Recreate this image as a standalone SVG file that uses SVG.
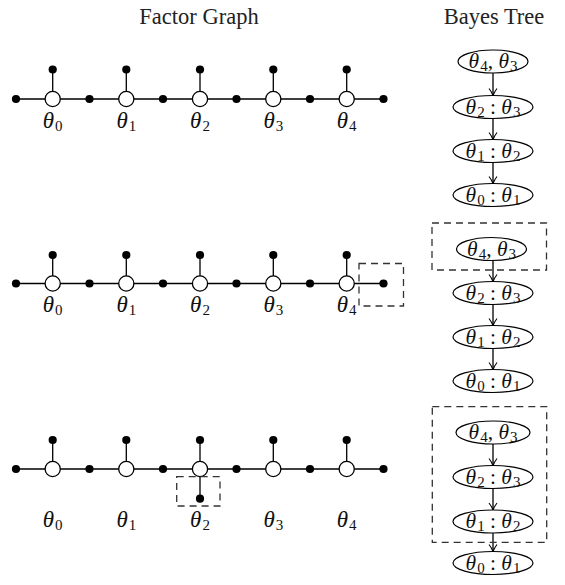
<svg xmlns="http://www.w3.org/2000/svg" width="565" height="585" viewBox="0 0 565 585">
<style>
.bg{fill:#fff}
.ln{stroke:#000;stroke-width:1.3;fill:none}
.var{fill:#fff;stroke:#000;stroke-width:1.3}
.fac{fill:#000}
.ell{fill:#fff;stroke:#000;stroke-width:1.2}
.dash{fill:none;stroke:#333;stroke-width:1.3;stroke-dasharray:7 5}
.title{font-family:"Liberation Serif","Times New Roman",serif;font-size:22.5px;fill:#222;text-anchor:middle}
.th{font-family:"Liberation Serif","Times New Roman",serif;font-size:23px;font-style:italic;fill:#111;text-anchor:middle}
.tt{font-size:21.5px}
.sub{font-style:normal;font-size:15px}
.op{font-style:normal}
</style>
<defs>
<marker id="arr" markerWidth="10" markerHeight="10" refX="8" refY="5" orient="auto" markerUnits="userSpaceOnUse">
<path d="M1,1 Q5,4 8,5 Q5,6 1,9" fill="none" stroke="#000" stroke-width="1.1"/>
</marker>
<circle id="v" r="7.6" class="var"/>
<circle id="f" r="4.1" class="fac"/>
</defs>
<rect class="bg" width="565" height="585"/>
<text class="title" x="199" y="24">Factor Graph</text>
<text class="title" x="494" y="24">Bayes Tree</text>

<g id="connectors">
<path class="ln" d="M16,99H383.5M52.7,99V69.5M126.3,99V69.5M200,99V69.5M273.3,99V69.5M346.7,99V69.5"/>
<path class="ln" d="M16,283.5H383.5M52.7,283.5V255M126.3,283.5V255M200,283.5V255M273.3,283.5V255M346.7,283.5V255"/>
<path class="ln" d="M16,469H383.5M52.7,469V440M126.3,469V440M200,469V440M273.3,469V440M346.7,469V440M200,469V498.7"/>
<path class="ln" marker-end="url(#arr)" d="M493,73V95.5"/>
<path class="ln" marker-end="url(#arr)" d="M493,118.5V139.5"/>
<path class="ln" marker-end="url(#arr)" d="M493,162.5V183.5"/>
<path class="ln" marker-end="url(#arr)" d="M493,260.5V281.5"/>
<path class="ln" marker-end="url(#arr)" d="M493,304.5V325.5"/>
<path class="ln" marker-end="url(#arr)" d="M493,348.5V369.5"/>
<path class="ln" marker-end="url(#arr)" d="M493,444V465.5"/>
<path class="ln" marker-end="url(#arr)" d="M493,488.5V510"/>
<path class="ln" marker-end="url(#arr)" d="M493,533V551.5"/>
</g>

<g id="r1-f0"><use href="#f" x="16" y="99"/></g>
<g id="r1-f1"><use href="#f" x="89.5" y="99"/></g>
<g id="r1-f2"><use href="#f" x="163" y="99"/></g>
<g id="r1-f3"><use href="#f" x="236.5" y="99"/></g>
<g id="r1-f4"><use href="#f" x="310" y="99"/></g>
<g id="r1-f5"><use href="#f" x="383.5" y="99"/></g>
<g id="r1-u0"><use href="#f" x="52.7" y="69.5"/></g>
<g id="r1-u1"><use href="#f" x="126.3" y="69.5"/></g>
<g id="r1-u2"><use href="#f" x="200" y="69.5"/></g>
<g id="r1-u3"><use href="#f" x="273.3" y="69.5"/></g>
<g id="r1-u4"><use href="#f" x="346.7" y="69.5"/></g>
<g id="r1-v0"><use href="#v" x="52.7" y="99"/><text class="th" x="52.7" y="128">θ<tspan class="sub" dx="1" dy="3">0</tspan></text></g>
<g id="r1-v1"><use href="#v" x="126.3" y="99"/><text class="th" x="126.3" y="128">θ<tspan class="sub" dx="1" dy="3">1</tspan></text></g>
<g id="r1-v2"><use href="#v" x="200" y="99"/><text class="th" x="200" y="128">θ<tspan class="sub" dx="1" dy="3">2</tspan></text></g>
<g id="r1-v3"><use href="#v" x="273.3" y="99"/><text class="th" x="273.3" y="128">θ<tspan class="sub" dx="1" dy="3">3</tspan></text></g>
<g id="r1-v4"><use href="#v" x="346.7" y="99"/><text class="th" x="346.7" y="128">θ<tspan class="sub" dx="1" dy="3">4</tspan></text></g>

<g id="r2-f0"><use href="#f" x="16" y="283.5"/></g>
<g id="r2-f1"><use href="#f" x="89.5" y="283.5"/></g>
<g id="r2-f2"><use href="#f" x="163" y="283.5"/></g>
<g id="r2-f3"><use href="#f" x="236.5" y="283.5"/></g>
<g id="r2-f4"><use href="#f" x="310" y="283.5"/></g>
<g id="r2-f5"><use href="#f" x="383.5" y="283.5"/></g>
<g id="r2-u0"><use href="#f" x="52.7" y="255"/></g>
<g id="r2-u1"><use href="#f" x="126.3" y="255"/></g>
<g id="r2-u2"><use href="#f" x="200" y="255"/></g>
<g id="r2-u3"><use href="#f" x="273.3" y="255"/></g>
<g id="r2-u4"><use href="#f" x="346.7" y="255"/></g>
<g id="r2-v0"><use href="#v" x="52.7" y="283.5"/><text class="th" x="52.7" y="312">θ<tspan class="sub" dx="1" dy="3">0</tspan></text></g>
<g id="r2-v1"><use href="#v" x="126.3" y="283.5"/><text class="th" x="126.3" y="312">θ<tspan class="sub" dx="1" dy="3">1</tspan></text></g>
<g id="r2-v2"><use href="#v" x="200" y="283.5"/><text class="th" x="200" y="312">θ<tspan class="sub" dx="1" dy="3">2</tspan></text></g>
<g id="r2-v3"><use href="#v" x="273.3" y="283.5"/><text class="th" x="273.3" y="312">θ<tspan class="sub" dx="1" dy="3">3</tspan></text></g>
<g id="r2-v4"><use href="#v" x="346.7" y="283.5"/><text class="th" x="346.7" y="312">θ<tspan class="sub" dx="1" dy="3">4</tspan></text></g>
<g id="r2-box"><rect class="dash" x="359" y="263.5" width="44.5" height="42.5"/></g>

<g id="r3-f0"><use href="#f" x="16" y="469"/></g>
<g id="r3-f1"><use href="#f" x="89.5" y="469"/></g>
<g id="r3-f2"><use href="#f" x="163" y="469"/></g>
<g id="r3-f3"><use href="#f" x="236.5" y="469"/></g>
<g id="r3-f4"><use href="#f" x="310" y="469"/></g>
<g id="r3-f5"><use href="#f" x="383.5" y="469"/></g>
<g id="r3-u0"><use href="#f" x="52.7" y="440"/></g>
<g id="r3-u1"><use href="#f" x="126.3" y="440"/></g>
<g id="r3-u2"><use href="#f" x="200" y="440"/></g>
<g id="r3-u3"><use href="#f" x="273.3" y="440"/></g>
<g id="r3-u4"><use href="#f" x="346.7" y="440"/></g>
<g id="r3-new"><use href="#f" x="200" y="498.7"/></g>
<g id="r3-v0"><use href="#v" x="52.7" y="469"/><text class="th" x="52.7" y="527">θ<tspan class="sub" dx="1" dy="3">0</tspan></text></g>
<g id="r3-v1"><use href="#v" x="126.3" y="469"/><text class="th" x="126.3" y="527">θ<tspan class="sub" dx="1" dy="3">1</tspan></text></g>
<g id="r3-v2"><use href="#v" x="200" y="469"/><text class="th" x="200" y="527">θ<tspan class="sub" dx="1" dy="3">2</tspan></text></g>
<g id="r3-v3"><use href="#v" x="273.3" y="469"/><text class="th" x="273.3" y="527">θ<tspan class="sub" dx="1" dy="3">3</tspan></text></g>
<g id="r3-v4"><use href="#v" x="346.7" y="469"/><text class="th" x="346.7" y="527">θ<tspan class="sub" dx="1" dy="3">4</tspan></text></g>
<g id="r3-box"><rect class="dash" x="176.7" y="476.7" width="43.3" height="29.3"/></g>

<g id="t1-n0"><ellipse class="ell" cx="493" cy="61.5" rx="35" ry="11.5"/><text class="th tt" x="493" y="68">θ<tspan class="sub" dx="1" dy="3">4</tspan><tspan class="op" dy="-3">, </tspan>θ<tspan class="sub" dx="1" dy="3">3</tspan></text></g>
<g id="t1-n1"><ellipse class="ell" cx="493" cy="107" rx="40" ry="11.5"/><text class="th tt" x="493" y="113.5">θ<tspan class="sub" dx="1" dy="3">2</tspan><tspan class="op" dy="-3"> : </tspan>θ<tspan class="sub" dx="1" dy="3">3</tspan></text></g>
<g id="t1-n2"><ellipse class="ell" cx="493" cy="151" rx="40" ry="11.5"/><text class="th tt" x="493" y="157.5">θ<tspan class="sub" dx="1" dy="3">1</tspan><tspan class="op" dy="-3"> : </tspan>θ<tspan class="sub" dx="1" dy="3">2</tspan></text></g>
<g id="t1-n3"><ellipse class="ell" cx="493" cy="195" rx="40" ry="11.5"/><text class="th tt" x="493" y="201.5">θ<tspan class="sub" dx="1" dy="3">0</tspan><tspan class="op" dy="-3"> : </tspan>θ<tspan class="sub" dx="1" dy="3">1</tspan></text></g>

<g id="t2-box"><rect class="dash" x="432" y="223" width="114.5" height="47"/></g>
<g id="t2-n0"><ellipse class="ell" cx="491.5" cy="249" rx="35" ry="11.5"/><text class="th tt" x="491.5" y="255.5">θ<tspan class="sub" dx="1" dy="3">4</tspan><tspan class="op" dy="-3">, </tspan>θ<tspan class="sub" dx="1" dy="3">3</tspan></text></g>
<g id="t2-n1"><ellipse class="ell" cx="493" cy="293" rx="40" ry="11.5"/><text class="th tt" x="493" y="299.5">θ<tspan class="sub" dx="1" dy="3">2</tspan><tspan class="op" dy="-3"> : </tspan>θ<tspan class="sub" dx="1" dy="3">3</tspan></text></g>
<g id="t2-n2"><ellipse class="ell" cx="493" cy="337" rx="40" ry="11.5"/><text class="th tt" x="493" y="343.5">θ<tspan class="sub" dx="1" dy="3">1</tspan><tspan class="op" dy="-3"> : </tspan>θ<tspan class="sub" dx="1" dy="3">2</tspan></text></g>
<g id="t2-n3"><ellipse class="ell" cx="493" cy="381" rx="40" ry="11.5"/><text class="th tt" x="493" y="387.5">θ<tspan class="sub" dx="1" dy="3">0</tspan><tspan class="op" dy="-3"> : </tspan>θ<tspan class="sub" dx="1" dy="3">1</tspan></text></g>

<g id="t3-box"><rect class="dash" x="432.3" y="406.7" width="114.4" height="135.6"/></g>
<g id="t3-n0"><ellipse class="ell" cx="493" cy="432.5" rx="37" ry="11.5"/><text class="th tt" x="493" y="439">θ<tspan class="sub" dx="1" dy="3">4</tspan><tspan class="op" dy="-3">, </tspan>θ<tspan class="sub" dx="1" dy="3">3</tspan></text></g>
<g id="t3-n1"><ellipse class="ell" cx="493" cy="477" rx="40" ry="11.5"/><text class="th tt" x="493" y="483.5">θ<tspan class="sub" dx="1" dy="3">2</tspan><tspan class="op" dy="-3"> : </tspan>θ<tspan class="sub" dx="1" dy="3">3</tspan></text></g>
<g id="t3-n2"><ellipse class="ell" cx="493" cy="521.5" rx="40" ry="11.5"/><text class="th tt" x="493" y="528">θ<tspan class="sub" dx="1" dy="3">1</tspan><tspan class="op" dy="-3"> : </tspan>θ<tspan class="sub" dx="1" dy="3">2</tspan></text></g>
<g id="t3-n3"><ellipse class="ell" cx="493" cy="563" rx="40" ry="11.5"/><text class="th tt" x="493" y="569.5">θ<tspan class="sub" dx="1" dy="3">0</tspan><tspan class="op" dy="-3"> : </tspan>θ<tspan class="sub" dx="1" dy="3">1</tspan></text></g>
</svg>
